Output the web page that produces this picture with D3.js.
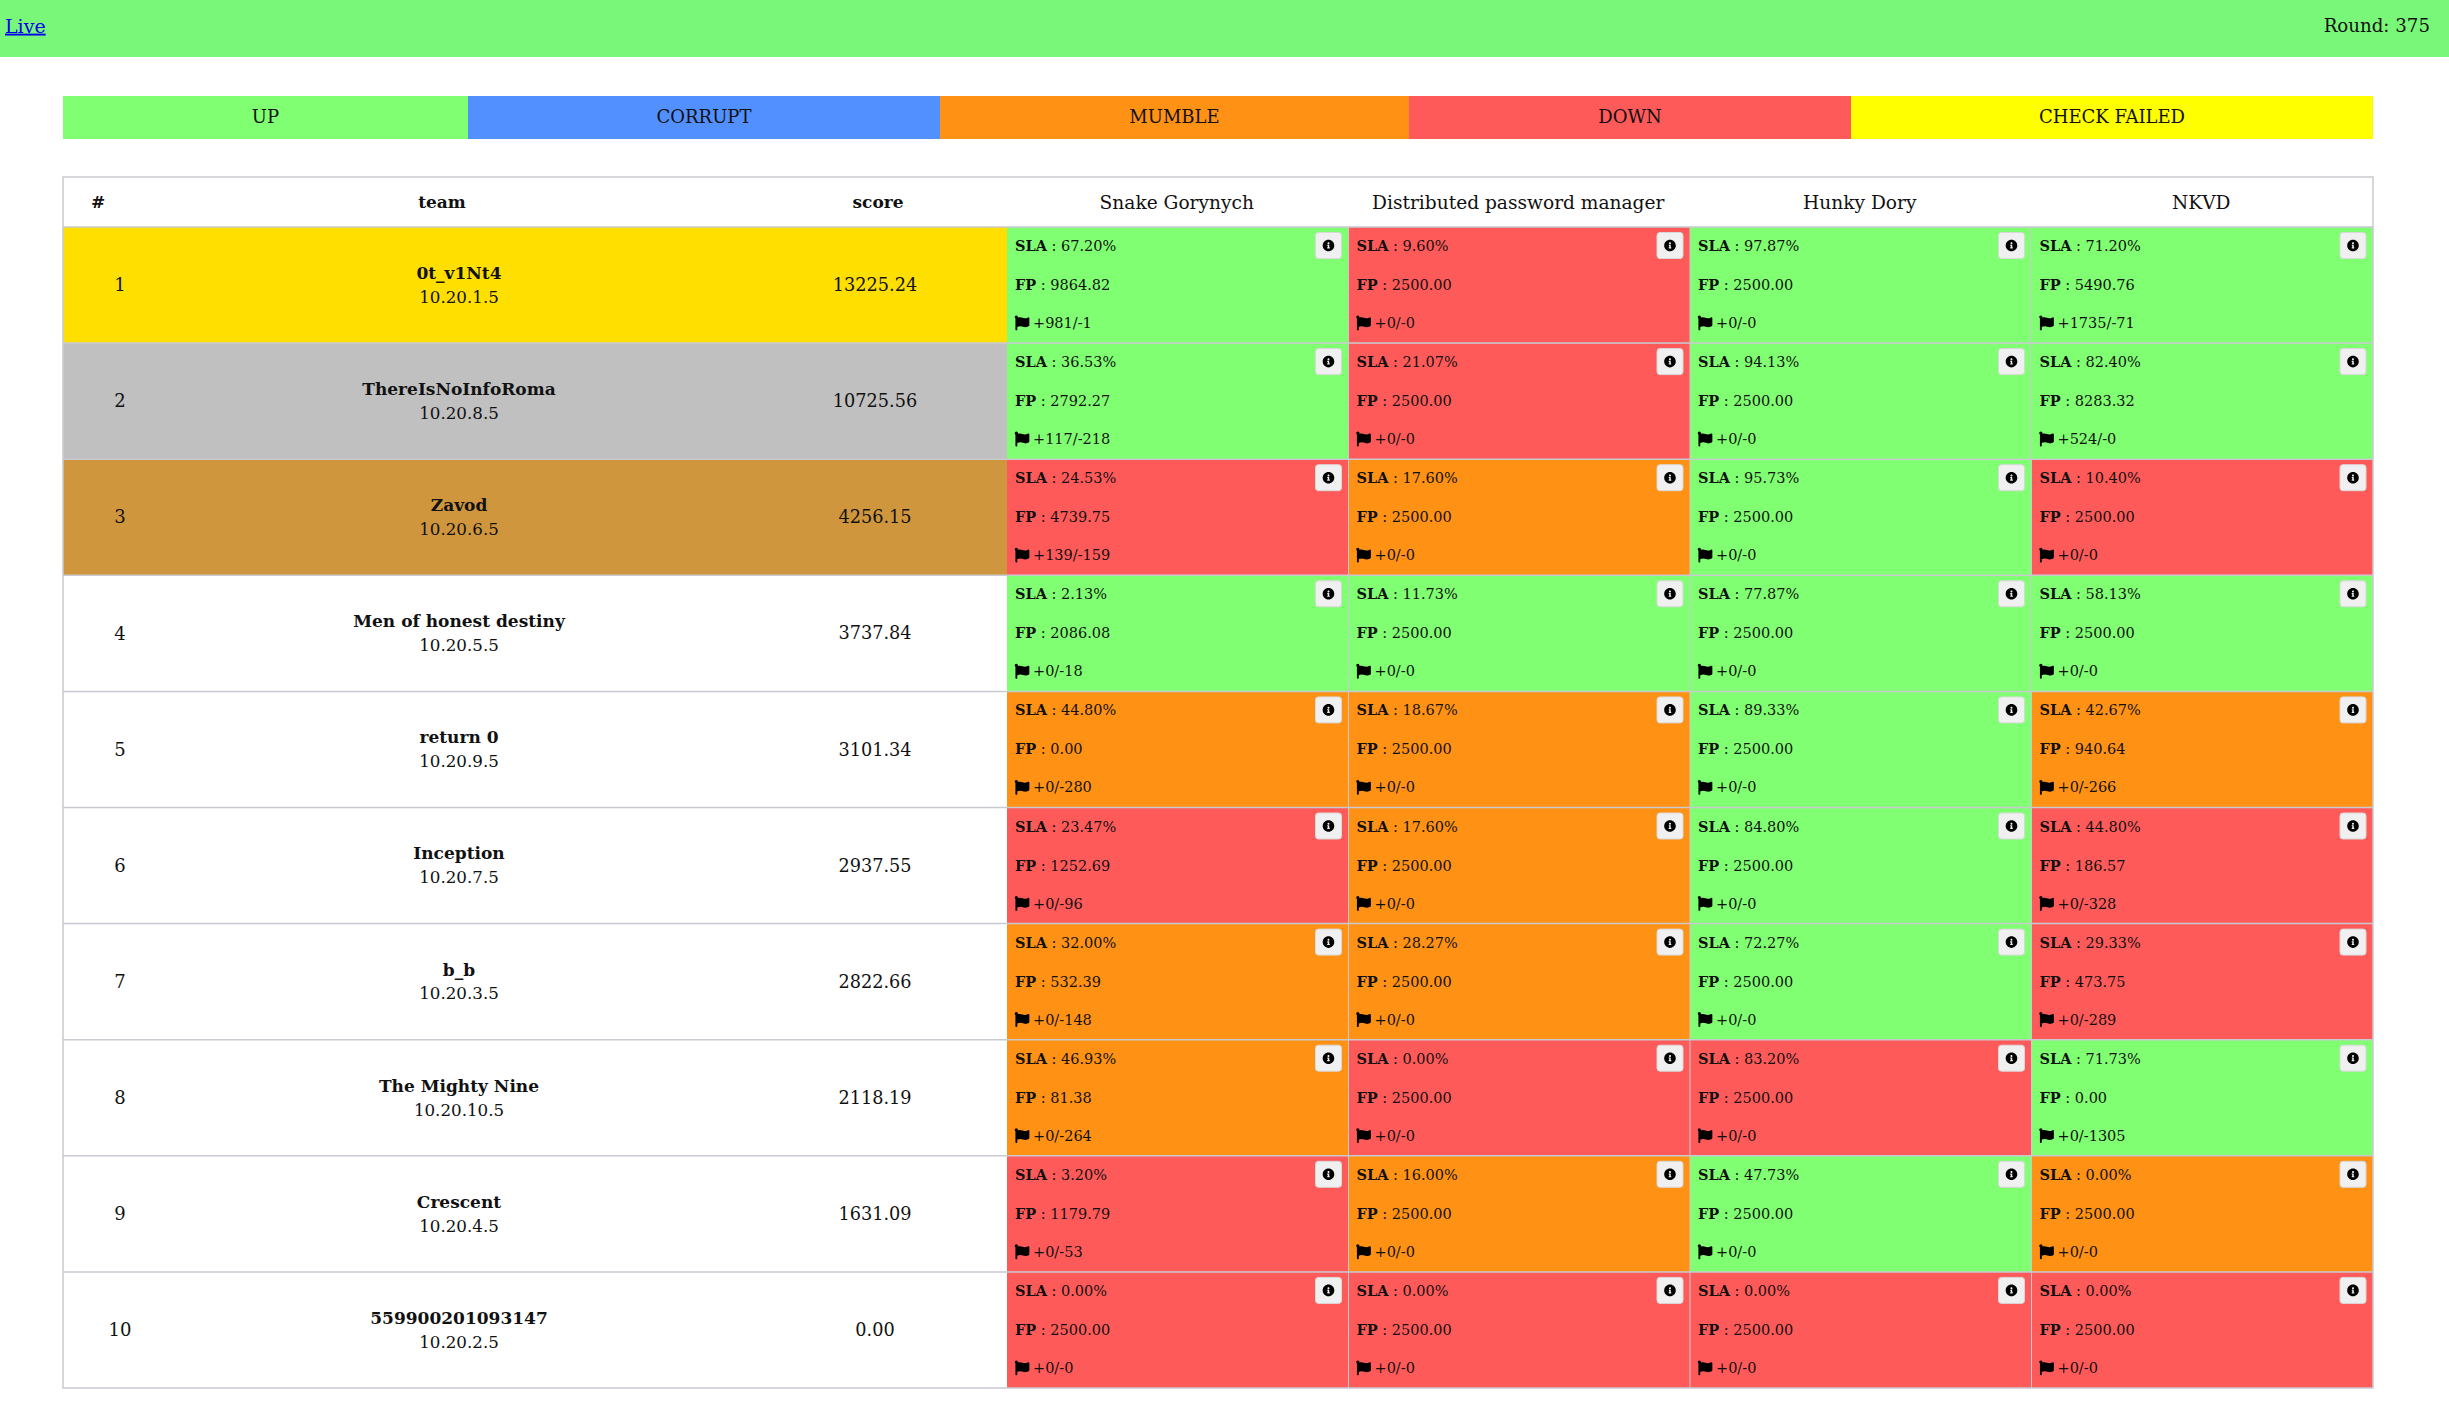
<!DOCTYPE html>
<html>
<head>
<meta charset="utf-8">
<script src="https://cdn.jsdelivr.net/npm/d3@7"></script>
<style>
  html, body { margin: 0; padding: 0; background: #fff; }
  svg { display: block; }
  text { font-family: "DejaVu Serif", serif; fill: #111; }
</style>
</head>
<body>
<svg id="board" width="2449" height="1408"></svg>
<script>
// scoreboard data
const round = 375;
const legendLabels = ['UP', 'CORRUPT', 'MUMBLE', 'DOWN', 'CHECK FAILED'];
const services = ['Snake Gorynych', 'Distributed password manager', 'Hunky Dory', 'NKVD'];
const teams = ['0t_v1Nt4', 'ThereIsNoInfoRoma', 'Zavod', 'Men of honest destiny', 'return 0',
  'Inception', 'b_b', 'The Mighty Nine', 'Crescent', '559900201093147'];
const ips = ['10.20.1.5', '10.20.8.5', '10.20.6.5', '10.20.5.5', '10.20.9.5',
  '10.20.7.5', '10.20.3.5', '10.20.10.5', '10.20.4.5', '10.20.2.5'];
const scores = [13225.24, 10725.56, 4256.15, 3737.84, 3101.34, 2937.55, 2822.66, 2118.19, 1631.09, 0];

const statuses = [
  ['UP', 'DOWN', 'UP', 'UP'],
  ['UP', 'DOWN', 'UP', 'UP'],
  ['DOWN', 'MUMBLE', 'UP', 'DOWN'],
  ['UP', 'UP', 'UP', 'UP'],
  ['MUMBLE', 'MUMBLE', 'UP', 'MUMBLE'],
  ['DOWN', 'MUMBLE', 'UP', 'DOWN'],
  ['MUMBLE', 'MUMBLE', 'UP', 'DOWN'],
  ['MUMBLE', 'DOWN', 'DOWN', 'UP'],
  ['DOWN', 'MUMBLE', 'UP', 'MUMBLE'],
  ['DOWN', 'DOWN', 'DOWN', 'DOWN']
];
const sla = [
  [67.20, 9.60, 97.87, 71.20],
  [36.53, 21.07, 94.13, 82.40],
  [24.53, 17.60, 95.73, 10.40],
  [2.13, 11.73, 77.87, 58.13],
  [44.80, 18.67, 89.33, 42.67],
  [23.47, 17.60, 84.80, 44.80],
  [32.00, 28.27, 72.27, 29.33],
  [46.93, 0, 83.20, 71.73],
  [3.20, 16.00, 47.73, 0],
  [0, 0, 0, 0]
];
const fp = [
  [9864.82, 2500, 2500, 5490.76],
  [2792.27, 2500, 2500, 8283.32],
  [4739.75, 2500, 2500, 2500],
  [2086.08, 2500, 2500, 2500],
  [0, 2500, 2500, 940.64],
  [1252.69, 2500, 2500, 186.57],
  [532.39, 2500, 2500, 473.75],
  [81.38, 2500, 2500, 0],
  [1179.79, 2500, 2500, 2500],
  [2500, 2500, 2500, 2500]
];
const flagsGot = [
  [981, 0, 0, 1735],
  [117, 0, 0, 524],
  [139, 0, 0, 0],
  [0, 0, 0, 0],
  [0, 0, 0, 0],
  [0, 0, 0, 0],
  [0, 0, 0, 0],
  [0, 0, 0, 0],
  [0, 0, 0, 0],
  [0, 0, 0, 0]
];
const flagsLost = [
  [1, 0, 0, 71],
  [218, 0, 0, 0],
  [159, 0, 0, 0],
  [18, 0, 0, 0],
  [280, 0, 0, 266],
  [96, 0, 0, 328],
  [148, 0, 0, 289],
  [264, 0, 0, 1305],
  [53, 0, 0, 0],
  [0, 0, 0, 0]
];

// layout
const left = 63, right = 2373, tableTop = 177, headTop = 227, tableBottom = 1388, colStart = 1007;
const legendEdges = [63, 468, 940, 1409, 1851, 2373];
const colors = { UP: '#80ff72', CORRUPT: '#5290ff', MUMBLE: '#ff9114', DOWN: '#ff5a5a', 'CHECK FAILED': '#ffff00' };
const podium = ['#ffdf00', '#c0c0c0', '#d0963e'];
const gridColor = '#c8cad0';

const flagIcon = 'M349.565 98.783C295.978 98.783 251.721 64 184.348 64c-24.955 0-47.309 4.384-68.045 12.013a55.947 55.947 0 0 0 3.586-23.562C118.117 24.015 94.806 1.206 66.338.048 34.345-1.254 8 24.296 8 56c0 19.026 9.497 35.825 24 45.945V488c0 13.255 10.745 24 24 24h16c13.255 0 24-10.745 24-24v-94.4c28.311-12.064 63.582-22.122 114.435-22.122 53.588 0 97.844 34.783 165.217 34.783 48.169 0 86.667-16.294 122.505-40.858C506.84 359.452 512 349.571 512 339.045v-243.1c0-23.393-24.269-38.87-45.485-29.016-34.338 15.948-76.454 31.854-116.95 31.854z';
const infoIcon = 'M256 8C119.043 8 8 119.083 8 256c0 136.997 111.043 248 248 248s248-111.003 248-248C504 119.083 392.957 8 256 8zm0 110c23.196 0 42 18.804 42 42s-18.804 42-42 42-42-18.804-42-42 18.804-42 42-42zm56 254c0 6.627-5.373 12-12 12h-88c-6.627 0-12-5.373-12-12v-24c0-6.627 5.373-12 12-12h12v-64h-12c-6.627 0-12-5.373-12-12v-24c0-6.627 5.373-12 12-12h64c6.627 0 12 5.373 12 12v100h12c6.627 0 12 5.373 12 12v24z';

const svg = d3.select('#board');
const y = d3.scaleBand().domain(d3.range(teams.length)).range([headTop, tableBottom]);
const x = d3.scaleBand().domain(d3.range(services.length)).range([colStart, right]);

function label(parent, px, py, str, size, anchor = 'middle', weight = 400) {
  return parent.append('text')
    .attr('x', px).attr('y', py).attr('dy', '.35em')
    .attr('text-anchor', anchor)
    .attr('font-size', size).attr('font-weight', weight)
    .text(str);
}

// top bar
svg.append('rect').attr('width', 2449).attr('height', 57).attr('fill', '#78f778');
label(svg, 5, 26, 'Live', 19, 'start')
  .style('fill', '#0000ee').attr('text-decoration', 'underline');
label(svg, 2430, 26, `Round: ${round}`, 18.2, 'end');

// legend
const legend = svg.append('g').selectAll('g').data(legendLabels).join('g');
legend.append('rect')
  .attr('x', (d, i) => legendEdges[i]).attr('y', 96)
  .attr('width', (d, i) => legendEdges[i + 1] - legendEdges[i]).attr('height', 43)
  .attr('fill', d => colors[d]);
legend.each(function (d, i) {
  label(d3.select(this), (legendEdges[i] + legendEdges[i + 1]) / 2, 117, d, 18);
});

// header
label(svg, 98, 202, '#', 17, 'middle', 700);
label(svg, 442, 202, 'team', 17, 'middle', 700);
label(svg, 878, 202, 'score', 17, 'middle', 700);
services.forEach((s, i) => label(svg, x(i) + x.bandwidth() / 2 - 1, 202, s, 18.6));

// team rows
const rows = svg.append('g').selectAll('g').data(teams).join('g')
  .attr('transform', (d, i) => `translate(0,${y(i)})`);
rows.append('rect')
  .attr('x', left).attr('width', colStart - left).attr('height', y.bandwidth())
  .attr('fill', (d, i) => podium[i] || '#fff');
rows.each(function (team, i) {
  const g = d3.select(this);
  label(g, 120, 58, i + 1, 18);
  label(g, 459, 46, team, 17, 'middle', 700);
  label(g, 459, 70, ips[i], 16.7);
  label(g, 875, 58, scores[i].toFixed(2), 17.7);
});

// service cells
rows.each(function (team, r) {
  const cell = d3.select(this).selectAll('g.cell').data(services).join('g')
    .attr('class', 'cell')
    .attr('transform', (d, c) => `translate(${x(c)},0)`);
  cell.append('rect')
    .attr('width', x.bandwidth()).attr('height', y.bandwidth())
    .attr('fill', (d, c) => colors[statuses[r][c]]);

  cell.each(function (s, c) {
    const g = d3.select(this);
    const slaText = label(g, 8, 19, '', 14.5, 'start');
    slaText.append('tspan').attr('font-weight', 700).text('SLA');
    slaText.append('tspan').text(` : ${sla[r][c].toFixed(2)}%`);
    const fpText = label(g, 8, 58, '', 14.5, 'start');
    fpText.append('tspan').attr('font-weight', 700).text('FP');
    fpText.append('tspan').text(` : ${fp[r][c].toFixed(2)}`);
    g.append('path').attr('d', flagIcon).attr('fill', '#000')
      .attr('transform', 'translate(7.5,88.5) scale(0.029)');
    label(g, 26, 96, `+${flagsGot[r][c]}/-${flagsLost[r][c]}`, 14.5, 'start');

    // info button
    g.append('rect')
      .attr('x', x.bandwidth() - 33).attr('y', 5.5)
      .attr('width', 26).attr('height', 26).attr('rx', 3)
      .attr('fill', '#f0f0f0').attr('stroke', '#d8d8d8');
    g.append('path').attr('d', infoIcon).attr('fill', '#000')
      .attr('transform', `translate(${x.bandwidth() - 26},12.5) scale(0.0234)`);
  });
});

// grid
const grid = svg.append('g').attr('stroke', gridColor);
grid.append('rect')
  .attr('x', left).attr('y', tableTop).attr('width', right - left).attr('height', tableBottom - tableTop)
  .attr('fill', 'none').attr('stroke-width', 1.5);
grid.selectAll('line.row').data(d3.range(teams.length)).join('line')
  .attr('class', 'row')
  .attr('x1', left).attr('x2', right)
  .attr('y1', d => y(d)).attr('y2', d => y(d))
  .attr('stroke-width', 1.5);
grid.selectAll('line.col').data(d3.range(1, services.length)).join('line')
  .attr('class', 'col')
  .attr('x1', d => x(d)).attr('x2', d => x(d))
  .attr('y1', headTop).attr('y2', tableBottom);
</script>
</body>
</html>
